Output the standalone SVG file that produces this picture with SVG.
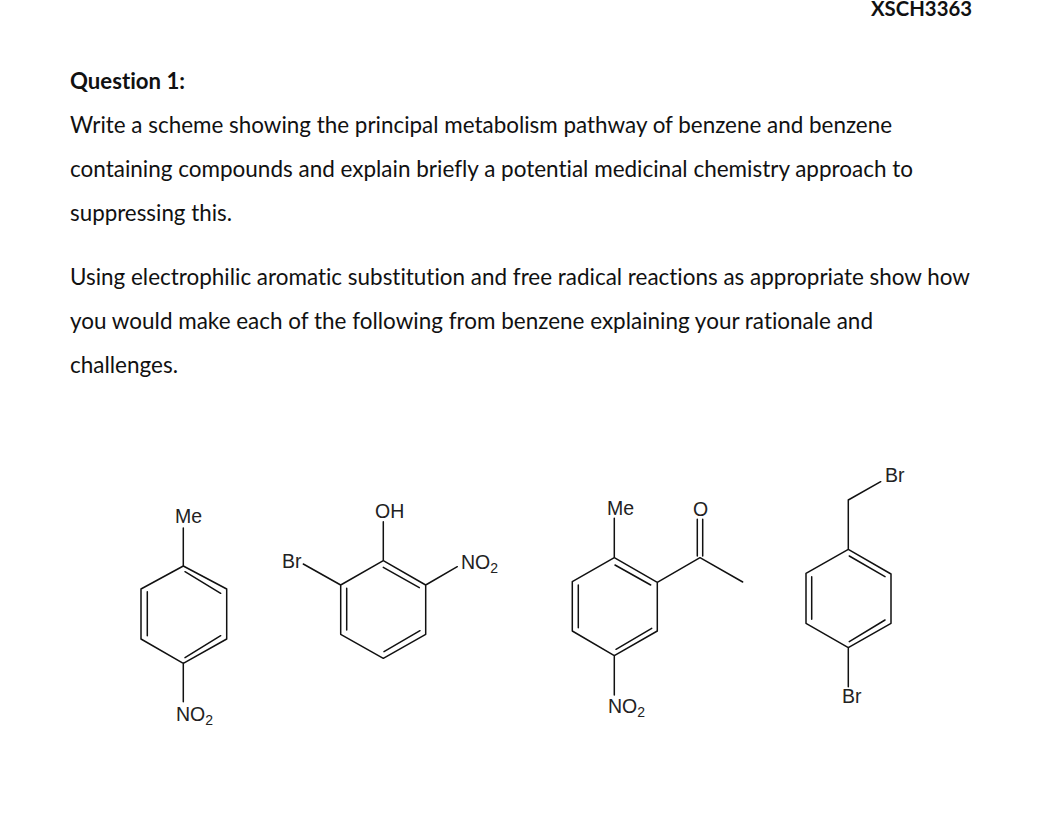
<svg xmlns="http://www.w3.org/2000/svg" width="1052" height="830" viewBox="0 0 1052 830">
<style>
.t{font-family:Lato,"Open Sans",sans-serif;font-size:23px;fill:#111;font-variant-ligatures:none}
.b{font-weight:700}
.l{font-family:"Liberation Sans",Arial,sans-serif;font-size:19.5px;fill:#222}
.s{font-size:14px}
.bond{fill:none;stroke:#111;stroke-width:1.5;stroke-linecap:round;stroke-linejoin:round}
</style>
<rect width="1052" height="830" fill="#fff"/>
<g id="question-text">
<text class="t b" x="871" y="16" font-size="21" style="font-size:21.5px" textLength="101" lengthAdjust="spacingAndGlyphs">XSCH3363</text>
<text class="t b" x="70" y="89" textLength="115" lengthAdjust="spacingAndGlyphs">Question 1:</text>
<text class="t" x="70" y="133" textLength="822" lengthAdjust="spacingAndGlyphs">Write a scheme showing the principal metabolism pathway of benzene and benzene</text>
<text class="t" x="70" y="177" textLength="843" lengthAdjust="spacingAndGlyphs">containing compounds and explain briefly a potential medicinal chemistry approach to</text>
<text class="t" x="70" y="221" textLength="162" lengthAdjust="spacingAndGlyphs">suppressing this.</text>
<text class="t" x="70" y="285" textLength="900" lengthAdjust="spacingAndGlyphs">Using electrophilic aromatic substitution and free radical reactions as appropriate show how</text>
<text class="t" x="70" y="329" textLength="803" lengthAdjust="spacingAndGlyphs">you would make each of the following from benzene explaining your rationale and</text>
<text class="t" x="70" y="373" textLength="108" lengthAdjust="spacingAndGlyphs">challenges.</text>
</g>
<g id="molecule-1">
<path class="bond" d="M183.3 566L226.7 589V639L183.3 663.3L141 639V589ZM183.3 528V566M183.3 663.3V701.7M185 571.7L220.7 593.3M147.3 591.7V635.7M185 657.7L220.7 635.7"/>
<text class="l" x="175" y="523">Me</text>
<text class="l" x="176" y="721">NO<tspan class="s" dy="4">2</tspan></text>
</g>
<g id="molecule-2">
<path class="bond" d="M383.3 560.7L425.7 585V634.3L383.3 658.3L340.7 634.3V585ZM383.3 521.7V560.7M340.7 585L303.3 564M425.7 585L457.3 566.7M383.3 567.3L419.3 587.7M346.7 588.3V630M384 651.7L420 630.7"/>
<text class="l" x="375" y="518">OH</text>
<text class="l" x="282" y="568">Br</text>
<text class="l" x="461" y="569">NO<tspan class="s" dy="4">2</tspan></text>
</g>
<g id="molecule-3">
<path class="bond" d="M614.3 557.7L657.3 582.3V631L614.3 655.7L572.3 631V581.7ZM614.3 518.3V557.7M614.3 655.7V695M657.3 582.3L700 557.7L742.7 582M697.3 519.3V556M702.7 519.3V556M615 565L650.7 585M578.3 585V627.7M616 649.3L651.7 628.3"/>
<text class="l" x="607" y="515">Me</text>
<text class="l" x="693" y="516">O</text>
<text class="l" x="608" y="713">NO<tspan class="s" dy="4">2</tspan></text>
</g>
<g id="molecule-4">
<path class="bond" d="M848.3 549.3L891 574V623.3L848.3 647.7L806 623.3V573.3ZM848.3 500V549.3M848.3 500L880.7 481.7M848.3 647.7V686.7M849.3 556L885 576.7M811.7 576.7V619.3M849.3 641.7L885 620"/>
<text class="l" x="885" y="482">Br</text>
<text class="l" x="842" y="703">Br</text>
</g>
</svg>
